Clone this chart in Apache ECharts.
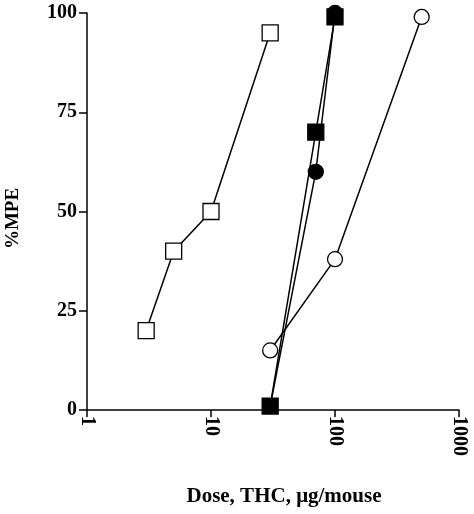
<!DOCTYPE html>
<html>
<head>
<meta charset="utf-8">
<script src="https://cdn.jsdelivr.net/npm/echarts@6/dist/echarts.min.js"></script>
<style>
  html, body { margin: 0; padding: 0; background: #fff; }
  #main { width: 474px; height: 514px; }
</style>
</head>
<body>
<div id="main"></div>
<script>
// data: [dose, %MPE]
var openSquares   = [[3, 20], [5, 40], [10, 50], [30, 95]];
var openCircles   = [[30, 15], [100, 38], [500, 99]];
var filledCircles = [[30, 1], [70, 60], [100, 100]];
var filledSquares = [[30, 1], [70, 70], [100, 99]];
var yTicks = [0, 25, 50, 75, 100];

var font = '"Liberation Serif", "Times New Roman", serif';

function mkSeries(name, data, symbol, filled) {
  return {
    name: name,
    type: 'line',
    data: data,
    symbol: symbol,
    symbolSize: symbol === 'rect' ? 16 : 15,
    showAllSymbol: true,
    lineStyle: { color: '#000', width: 1.5 },
    itemStyle: {
      color: filled ? '#000' : '#fff',
      borderColor: '#000',
      borderWidth: 1.3
    },
    emphasis: { disabled: true },
    animation: false
  };
}

var chart = echarts.init(document.getElementById('main'));
chart.setOption({
  animation: false,
  grid: { left: 87, right: 15, top: 13, bottom: 104, containLabel: false, outerBoundsMode: 'none' },
  xAxis: {
    type: 'log',
    logBase: 10,
    min: 1,
    max: 1000,
    name: 'Dose, THC, \u03bcg/mouse',
    nameLocation: 'middle',
    nameGap: 76,
    nameTextStyle: {
      fontFamily: font, fontWeight: 'bold', fontSize: 21, color: '#000',
      padding: [0, 0, 0, 22]
    },
    axisLine: { onZero: false, lineStyle: { color: '#000', width: 1.5 } },
    axisTick: { show: true, length: 7, lineStyle: { color: '#000', width: 1.5 } },
    axisLabel: {
      rotate: -90,
      margin: 6,
      formatter: function (v) { return String(v); },
      fontFamily: font, fontWeight: 'bold', fontSize: 20, color: '#000'
    },
    splitLine: { show: false },
    minorTick: { show: false }
  },
  yAxis: {
    type: 'value',
    min: yTicks[0],
    max: yTicks[yTicks.length - 1],
    interval: 25,
    name: '%MPE',
    nameLocation: 'middle',
    nameGap: 64,
    nameRotate: 90,
    nameTextStyle: { fontFamily: font, fontWeight: 'bold', fontSize: 19, color: '#000', padding: [0, 0, 0, -14] },
    axisLine: { show: true, lineStyle: { color: '#000', width: 1.5 } },
    axisTick: { show: true, length: 8, lineStyle: { color: '#000', width: 1.5 } },
    axisLabel: {
      margin: 10,
      fontFamily: font, fontWeight: 'bold', fontSize: 20, color: '#000'
    },
    splitLine: { show: false }
  },
  series: [
    mkSeries('open squares', openSquares, 'rect', false),
    mkSeries('open circles', openCircles, 'circle', false),
    mkSeries('filled circles', filledCircles, 'circle', true),
    mkSeries('filled squares', filledSquares, 'rect', true)
  ]
});
</script>
</body>
</html>
